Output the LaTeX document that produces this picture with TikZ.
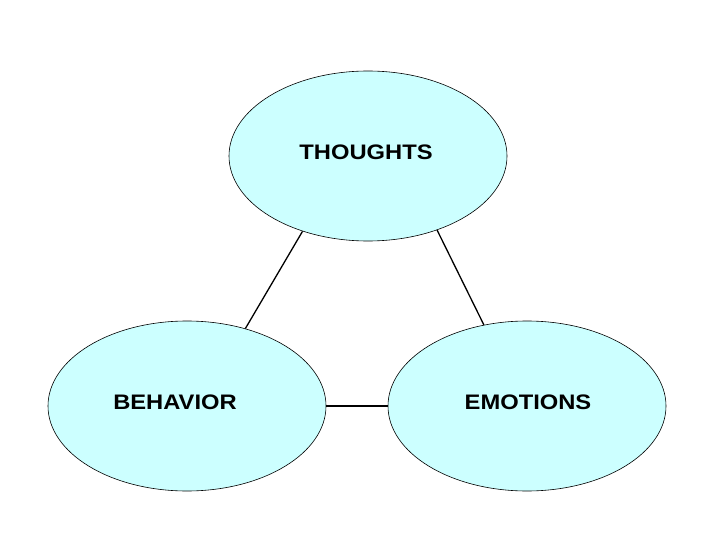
\documentclass[tikz,border=0pt]{standalone}
\usepackage{fontspec}
\setmainfont{Liberation Sans}
\usetikzlibrary{shapes.geometric}
\definecolor{cyanfill}{HTML}{CCFFFF}
\begin{document}
\begin{tikzpicture}[x=1pt,y=-1pt,
  oval/.style={ellipse,draw=black,line width=0.6pt,fill=cyanfill,minimum width=278pt,minimum height=170pt,inner sep=0pt},
  lab/.style={font=\bfseries\fontsize{21}{24}\selectfont,xscale=1.13},
  conn/.style={line width=1.3pt}]
\useasboundingbox (0,0) rectangle (720,540);
\node[oval] (T) at (368,156) {};
\node[oval] (B) at (187,406) {};
\node[oval] (E) at (527,406) {};
\node[lab] (tt) at (366,152) {THOUGHTS};
\node[lab] (bt) at (175,402) {BEHAVIOR};
\node[lab] (et) at (528,402) {EMOTIONS};
\draw[conn] (T.229) -- (B.53);
\draw[conn] (T.313) -- (E.118);
\draw[conn] (B.east) -- (E.west);
\end{tikzpicture}
\end{document}
